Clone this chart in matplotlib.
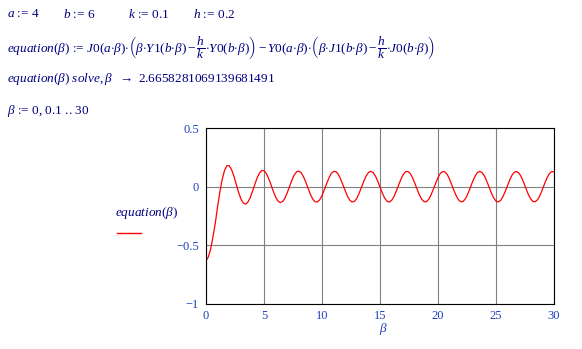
import matplotlib.pyplot as plt
from matplotlib.lines import Line2D

plt.rcParams['mathtext.fontset'] = 'custom'
plt.rcParams['mathtext.rm'] = 'Liberation Serif'
plt.rcParams['mathtext.it'] = 'Liberation Serif:italic'
plt.rcParams['mathtext.bf'] = 'Liberation Serif:bold'
plt.rcParams['font.family'] = 'Liberation Serif'

# beta := 0, 0.1 .. 30 (one every 0.2)
beta = [0.1] + [round(0.2 * i, 1) for i in range(1, 151)]
equation = [
    -0.617, -0.599, -0.532, -0.429, -0.312, -0.169, -0.042, 0.063, 0.139, 0.178,
    0.179, 0.147, 0.091, 0.023, -0.045, -0.102, -0.138, -0.149, -0.134, -0.096,
    -0.042, 0.017, 0.073, 0.115, 0.137, 0.136, 0.113, 0.070, 0.017, -0.039,
    -0.088, -0.122, -0.136, -0.127, -0.098, -0.053, 0.001, 0.054, 0.098, 0.126,
    0.133, 0.119, 0.086, 0.039, -0.014, -0.065, -0.105, -0.129, -0.131, -0.112,
    -0.076, -0.027, 0.026, 0.075, 0.112, 0.130, 0.128, 0.106, 0.066, 0.016,
    -0.036, -0.083, -0.116, -0.131, -0.125, -0.099, -0.057, -0.006, 0.046, 0.090,
    0.120, 0.131, 0.121, 0.092, 0.048, -0.004, -0.055, -0.097, -0.124, -0.131,
    -0.117, -0.085, -0.039, 0.013, 0.063, 0.103, 0.126, 0.130, 0.113, 0.078,
    0.030, -0.022, -0.070, -0.108, -0.128, -0.128, -0.108, -0.070, -0.022, 0.030,
    0.078, 0.113, 0.129, 0.126, 0.103, 0.063, 0.013, -0.039, -0.084, -0.116,
    -0.130, -0.123, -0.097, -0.055, -0.005, 0.047, 0.090, 0.120, 0.130, 0.120,
    0.091, 0.048, -0.004, -0.054, -0.096, -0.123, -0.130, -0.117, -0.085, -0.040,
    0.012, 0.061, 0.101, 0.125, 0.129, 0.113, 0.079, 0.032, -0.020, -0.069,
    -0.106, -0.127, -0.128, -0.109, -0.072, -0.024, 0.028, 0.075, 0.111, 0.129,
    0.126,
]

x_ticks = [0, 5, 10, 15, 20, 25, 30]
x_tick_labels = ['0', '5', '10', '15', '20', '25', '30']
y_ticks = [-1, -0.5, 0, 0.5]
y_tick_labels = ['\u22121', '\u22120.5', '0', '0.5']

W, H = 582, 349
navy = '#000080'
tick_blue = '#2040c0'

fig = plt.figure(figsize=(W / 100, H / 100), dpi=100)
fig.patch.set_facecolor('white')


def fx(px):
    return px / W


def fy(py):
    return 1 - py / H


# Mathcad worksheet lines above the plot
fs = 9.5
fig.text(fx(7), fy(14), r'$a$ := 4', color=navy, fontsize=fs, va='center')
fig.text(fx(63), fy(14), r'$b$ := 6', color=navy, fontsize=fs, va='center')
fig.text(fx(128), fy(14), r'$k$ := 0.1', color=navy, fontsize=fs, va='center')
fig.text(fx(193), fy(14), r'$h$ := 0.2', color=navy, fontsize=fs, va='center')
fig.text(fx(7), fy(47),
         r'$equation(\beta)$ := '
         r'$J0(a{\cdot}\beta){\cdot}\left(\beta{\cdot}Y1(b{\cdot}\beta)'
         r' - \dfrac{h}{k}{\cdot}Y0(b{\cdot}\beta)\right) - Y0(a{\cdot}\beta){\cdot}'
         r'\left(\beta{\cdot}J1(b{\cdot}\beta) - \dfrac{h}{k}{\cdot}J0(b{\cdot}\beta)\right)$',
         color=navy, fontsize=fs, va='center')
fig.text(fx(7), fy(79),
         r'$equation(\beta)\ solve,\beta$  $\rightarrow$ 2.6658281069139681491',
         color=navy, fontsize=fs, va='center')
fig.text(fx(7), fy(111), r'$\beta$ := 0, 0.1 .. 30', color=navy,
         fontsize=fs, va='center')

# plot
ax = fig.add_axes([fx(206), fy(304), (554 - 206) / W, (304 - 128) / H])
ax.plot(beta, equation, color='red', linewidth=0.9)
ax.set_xlim(0, 30)
ax.set_ylim(-1, 0.5)
ax.set_xticks(x_ticks)
ax.set_xticklabels(x_tick_labels)
ax.set_yticks(y_ticks)
ax.set_yticklabels(y_tick_labels)
ax.tick_params(axis='both', length=0, labelsize=9, labelcolor=tick_blue)
ax.tick_params(axis='y', pad=5)
ax.tick_params(axis='x', pad=4)
ax.grid(True, color='#808080', linewidth=0.8)
ax.set_axisbelow(True)
for sp in ax.spines.values():
    sp.set_color('black')
    sp.set_linewidth(0.8)

# axis labels drawn Mathcad-style
fig.text(fx(147), fy(213), r'$equation(\beta)$', color=navy, fontsize=fs,
         ha='center', va='center')
fig.add_artist(Line2D([fx(117), fx(141)], [fy(233), fy(233)], color='red',
                      linewidth=1.0))
fig.text(fx(383), fy(329), r'$\beta$', color=tick_blue, fontsize=fs,
         ha='center', va='center')

fig.savefig('out.png', dpi=100)
